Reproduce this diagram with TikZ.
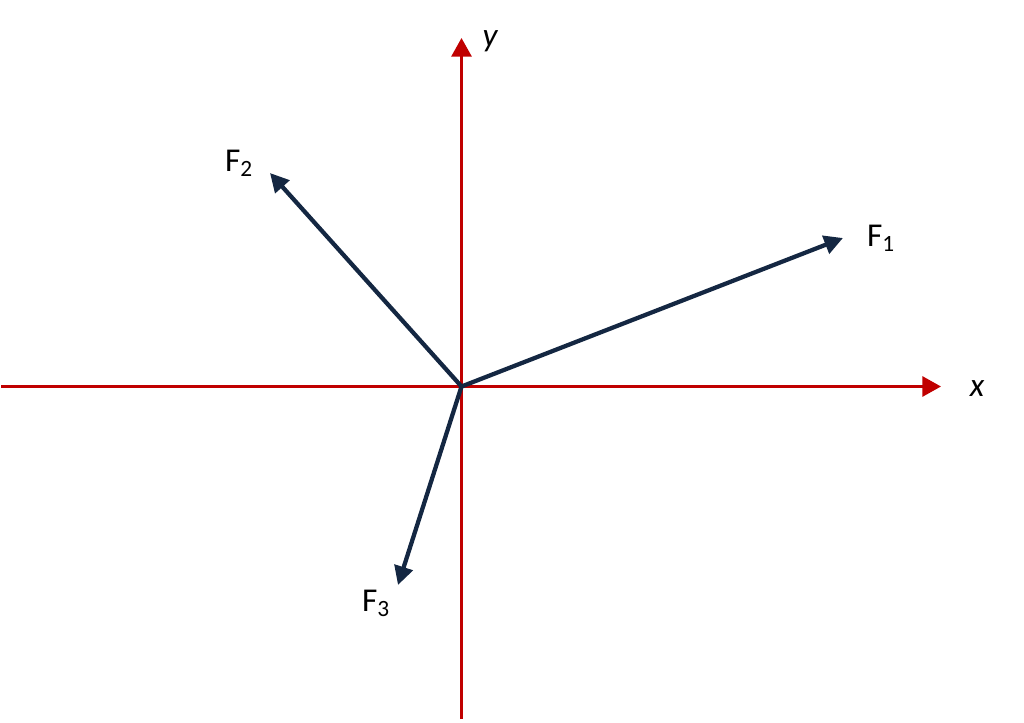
\documentclass[tikz,border=0pt]{standalone}
\usepackage{fontspec}
\setmainfont{Carlito}
\usepackage{tikz}
\usetikzlibrary{arrows.meta}

\definecolor{axisred}{RGB}{192,0,0}
\definecolor{forcenavy}{RGB}{20,39,66}

\tikzset{
  axis/.style={color=axisred, line width=2.2pt, -{Triangle[length=14pt,width=15pt]}},
  force/.style={color=forcenavy, line width=3.2pt, -{Triangle[length=14pt,width=14pt]}},
  lbl/.style={inner sep=0.75pt, font=\fontsize{25}{30}\selectfont}
}

\begin{document}
\begin{tikzpicture}[x=0.75pt,y=0.75pt,yscale=-1,xscale=1]
\useasboundingbox (0,0) rectangle (1024,723);

% origin and axis ends
\coordinate (O) at (461.5,386.5);
\coordinate (xstart) at (1,386.5);
\coordinate (xend) at (941,386.5);
\coordinate (ystart) at (461.5,719);
\coordinate (yend) at (461.5,38);

%Straight Lines: axes
\draw [axis] (xstart) -- (xend);
\draw [axis] (ystart) -- (yend);

% Text Node
\node [lbl] (xlabel) at (977,389) {\itshape x};
% Text Node
\node [lbl] (ylabel) at (490,41) {\itshape y};

% force tips
\coordinate (tip1) at (843,238);
\coordinate (tip2) at (270,173);
\coordinate (tip3) at (398,585);

%Straight Lines: forces
\draw [force] (O) -- (tip1);
\draw [force] (O) -- (tip2);
\draw [force] (O) -- (tip3);

% Text Node
\node [lbl] (f1) at (881,238) {F\textsubscript{1}};
% Text Node
\node [lbl] (f2) at (239,163) {F\textsubscript{2}};
% Text Node
\node [lbl] (f3) at (376,603) {F\textsubscript{3}};

\end{tikzpicture}
\end{document}
